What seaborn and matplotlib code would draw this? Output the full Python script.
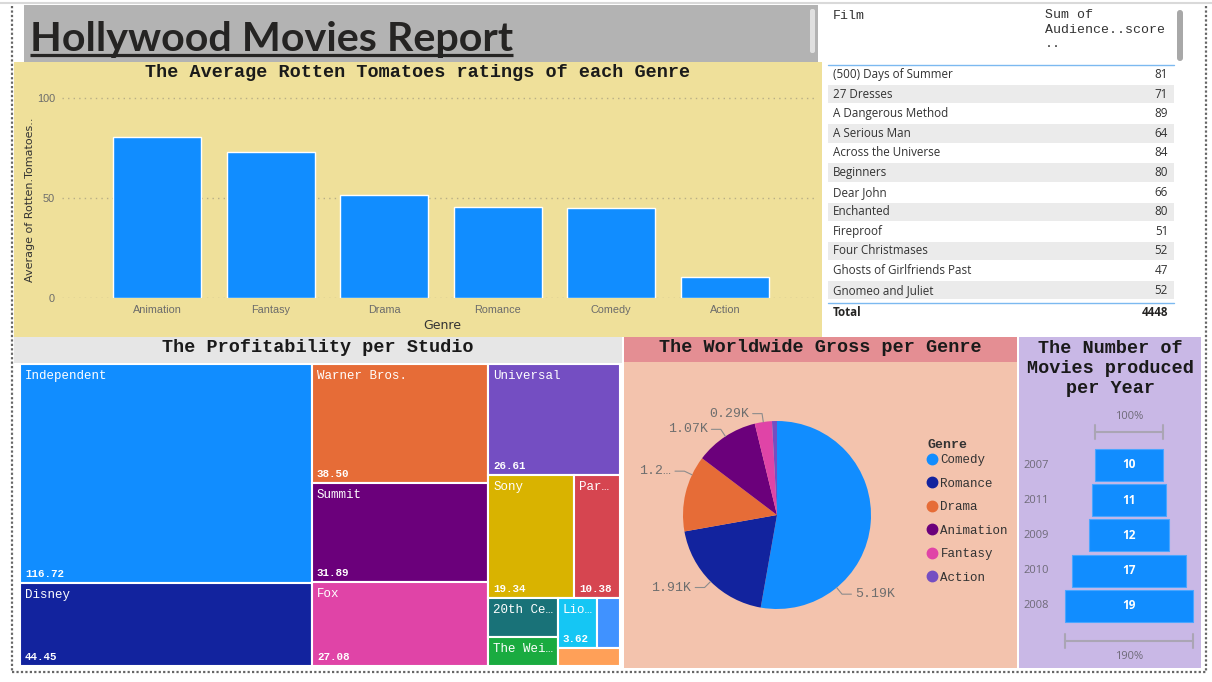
import numpy as np
import matplotlib.pyplot as plt
from matplotlib.patches import Rectangle, FancyBboxPatch
from matplotlib.lines import Line2D
import seaborn as sns

# ---------------- data ----------------
genres = ['Animation', 'Fantasy', 'Drama', 'Romance', 'Comedy', 'Action']
rt_avg = [80.3, 72.9, 51.6, 45.6, 45.1, 10.7]

films = ['(500) Days of Summer', '27 Dresses', 'A Dangerous Method', 'A Serious Man',
         'Across the Universe', 'Beginners', 'Dear John', 'Enchanted', 'Fireproof',
         'Four Christmases', 'Ghosts of Girlfriends Past', 'Gnomeo and Juliet']
aud_scores = [81, 71, 89, 64, 84, 80, 66, 80, 51, 52, 47, 52]
aud_total = 4448

studios = ['Independent', 'Disney', 'Warner Bros.', 'Summit', 'Fox', 'Universal', 'Sony',
           'Paramount', '20th Century Fox', 'The Weinstein Company', 'Lionsgate', 'CBS', 'New Line']
profit = [116.72, 44.45, 38.50, 31.89, 27.08, 26.61, 19.34, 10.38, 4.90, 3.66, 3.62, 2.10, 2.00]

pie_genres = ['Comedy', 'Romance', 'Drama', 'Animation', 'Fantasy', 'Action']
gross = [5190, 1910, 1290, 1070, 290, 84]

years = ['2007', '2011', '2009', '2010', '2008']
n_movies = [10, 11, 12, 17, 19]

# power bi default palette
PBI = ['#118DFF', '#12239E', '#E66C37', '#6B007B', '#E044A7', '#744EC2', '#D9B300',
       '#D64550', '#197278', '#1AAB40', '#15C6F4', '#4092FF', '#FFA058']

sns.set_style('white')
plt.rcParams['font.family'] = ['DejaVu Sans']
MONO = ['Liberation Mono', 'DejaVu Sans Mono']
SANS = ['Open Sans', 'DejaVu Sans']

W, H = 1212, 682
fig = plt.figure(figsize=(W / 100, H / 100), dpi=100)
fig.patch.set_facecolor('white')

canvas = fig.add_axes([0, 0, 1, 1])
canvas.set_xlim(0, W)
canvas.set_ylim(H, 0)
canvas.axis('off')


def box(x0, y0, x1, y1, color):
    canvas.add_patch(Rectangle((x0, y0), x1 - x0, y1 - y0, facecolor=color, edgecolor='none'))


def px_axes(x0, y0, x1, y1):
    a = fig.add_axes([x0 / W, 1 - y1 / H, (x1 - x0) / W, (y1 - y0) / H])
    a.patch.set_alpha(0)
    return a


# ---------------- backgrounds ----------------
box(24, 5, 818, 62, '#b3b3b3')
canvas.add_patch(FancyBboxPatch((810, 9), 5, 44, boxstyle='round,pad=0,rounding_size=2',
                                facecolor='#e0e0e0', edgecolor='none'))
box(14, 62, 822, 337, '#efe09a')
box(14, 337, 622, 363, '#e6e6e6')
box(624, 337, 1017, 668, '#f3c3ad')
box(624, 337, 1017, 362, '#e48e93')
box(1019, 337, 1201, 668, '#c9b8e6')

# title with underline, sized to span the same width as the report title
title = canvas.text(30, 51, 'Hollywood Movies Report', fontsize=32, fontweight='bold',
                    family=['Lato', 'DejaVu Sans'], color='#252423', va='baseline')
fig.canvas.draw()
bb = title.get_window_extent(fig.canvas.get_renderer())
title.set_fontsize(32 * 484 / bb.width)
fig.canvas.draw()
bb = title.get_window_extent(fig.canvas.get_renderer())
canvas.plot([bb.x0, bb.x1], [54.5, 54.5], color='#252423', lw=2.3, solid_capstyle='butt')

hdr = dict(family=MONO, fontweight='bold', fontsize=13.3, color='#1a1a1a', ha='center', va='center')
canvas.text(418, 72.5, 'The Average Rotten Tomatoes ratings of each Genre', **hdr)
canvas.text(318, 348, 'The Profitability per Studio', **hdr)
canvas.text(820, 348, 'The Worldwide Gross per Genre', **hdr)
canvas.text(1110, 368.5, 'The Number of\nMovies produced\nper Year', linespacing=1.2, **hdr)

# ---------------- bar chart ----------------
axb = px_axes(62, 90, 818, 298)
sns.barplot(x=genres, y=rt_avg, color='#118DFF', saturation=1, width=0.775, ax=axb)
axb.set_xlim(-0.836, 5.82)
axb.set_ylim(0, 103.8)
axb.set_yticks([0, 50, 100])
axb.grid(axis='y', linestyle=(0, (1, 3)), color='#b8ae86', lw=1)
axb.set_axisbelow(True)
sns.despine(ax=axb, left=True, bottom=True)
axb.tick_params(length=0, labelsize=7.8, labelcolor='#6b6b6b', pad=5)
for t in axb.get_xticklabels() + axb.get_yticklabels():
    t.set_family(['Liberation Sans', 'DejaVu Sans'])
axb.set_ylabel('Average of Rotten.Tomatoes..', fontsize=8, color='#333333')
axb.yaxis.set_label_coords(-0.036, 0.47)
axb.set_xlabel('Genre', fontsize=9, color='#333333')
axb.xaxis.set_label_coords(0.503, -0.1)

# ---------------- table ----------------
canvas.text(833, 10, 'Film', family=MONO, fontsize=9.5, color='#333333', va='top')
canvas.text(1045, 9, 'Sum of\nAudience..score\n..', family=MONO, fontsize=9.5,
            color='#333333', va='top', linespacing=1.3)
canvas.plot([828, 1174], [64.5, 64.5], color='#7cb9f0', lw=1)
row_h = 19.6
for i, (f, s) in enumerate(zip(films, aud_scores)):
    yc = 74.5 + row_h * i
    if i % 2 == 1:
        box(828, yc - row_h / 2 + 0.6, 1174, yc + row_h / 2 - 0.6, '#ebebeb')
    canvas.text(833, yc, f, family=SANS, fontsize=8.4, color='#333333', va='center')
    canvas.text(1168, yc, str(s), family=SANS, fontsize=8.4, color='#333333', va='center', ha='right')
canvas.plot([828, 1174], [303, 303], color='#7cb9f0', lw=1)
canvas.text(833, 313, 'Total', family=SANS, fontsize=8.4, fontweight='bold', color='#252423', va='center')
canvas.text(1168, 313, str(aud_total), family=SANS, fontsize=8.4, fontweight='bold',
            color='#252423', va='center', ha='right')
canvas.add_patch(FancyBboxPatch((1177, 10), 6, 51, boxstyle='round,pad=0,rounding_size=3',
                                facecolor='#a8a8a8', edgecolor='none'))


# ---------------- treemap (squarified, golden ratio like d3) ----------------
def squarify(values, x0, y0, x1, y1, ratio=(1 + 5 ** 0.5) / 2):
    rects = []
    i0, n, value = 0, len(values), float(sum(values))
    while i0 < n:
        dx, dy = x1 - x0, y1 - y0
        i1 = i0
        s = values[i1]
        i1 += 1
        vmin = vmax = s
        alpha = max(dy / dx, dx / dy) / (value * ratio)
        beta = s * s * alpha
        best = max(vmax / beta, beta / vmin)
        while i1 < n:
            v = values[i1]
            s2 = s + v
            mn, mx = min(vmin, v), max(vmax, v)
            beta = s2 * s2 * alpha
            r = max(mx / beta, beta / mn)
            if r > best:
                break
            s, vmin, vmax, best = s2, mn, mx, r
            i1 += 1
        row = values[i0:i1]
        if dx < dy:
            h = dy * s / value
            xx = x0
            for v in row:
                w = dx * v / s
                rects.append((xx, y0, w, h))
                xx += w
            y0 += h
        else:
            w = dx * s / value
            yy = y0
            for v in row:
                hh = dy * v / s
                rects.append((x0, yy, w, hh))
                yy += hh
            x0 += w
        value -= s
        i0 = i1
    return rects


TW, TH = 600, 302
axt = px_axes(20, 364, 20 + TW, 364 + TH)
axt.set_xlim(0, TW)
axt.set_ylim(TH, 0)
axt.axis('off')
char_w = 7.4
for (x, y, w, h), name, val, col in zip(squarify(profit, 0, 0, TW, TH), studios, profit, PBI):
    axt.add_patch(Rectangle((x, y), w, h, facecolor=col, edgecolor='white', lw=1.5))
    if h < 25:
        continue
    nchar = int((w - 10) / char_w + 0.05)
    if nchar < 3:
        continue
    label = name if len(name) <= nchar else name[:nchar - 1] + '…'
    axt.text(x + 5, y + 6, label, family=MONO, fontsize=9, color='white', va='top', ha='left')
    if h > 44:
        axt.text(x + 5, y + h - 4, f'{val:.2f}', family=MONO, fontsize=7.8, fontweight='bold',
                 color='white', va='bottom', ha='left')

# ---------------- pie ----------------
PCX, PCY, PR = 777, 515, 94
axp = px_axes(PCX - PR, PCY - PR, PCX + PR, PCY + PR)
axp.pie(gross, colors=PBI[:6], startangle=90, counterclock=False, radius=1,
        wedgeprops=dict(edgecolor='none'))
axp.set_xlim(-1, 1)
axp.set_ylim(-1, 1)
label_frac = [0.74, 0.5, 0.75, 0.5, 0.5]
total = sum(gross)
start = 0
for i, v in enumerate(gross):
    span = 360 * v / total
    if i < len(label_frac):
        th = np.radians(start + label_frac[i] * span)
        sx, cy = np.sin(th), np.cos(th)
        side = 1 if sx > 0 else -1
        p1 = (sx * 1.0, cy * 1.0)
        p2 = (sx * 1.09, cy * 1.09)
        p3 = (p2[0] + side * 0.1, p2[1])
        axp.plot([p1[0], p2[0], p3[0]], [p1[1], p2[1], p3[1]], color='#8c8c8c', lw=0.8, clip_on=False)
        txt = f'{v / 1000:.2f}K'
        tx = p3[0] + side * 0.04
        if side < 0:
            right_px = PCX + tx * PR
            avail = int((right_px - 632) / 8)
            if avail < len(txt):
                txt = txt[:avail - 1] + '…'
        axp.text(tx, p3[1], txt, family=MONO, fontsize=9.5, color='#6e6e6e',
                 ha='left' if side > 0 else 'right', va='center', clip_on=False)
    start += span

handles = [Line2D([], [], marker='o', ls='', markersize=7.5, color=c) for c in PBI[:6]]
fig.legend(handles, pie_genres, title='Genre', loc='upper left', bbox_to_anchor=(921 / W, 1 - 433 / H),
           frameon=False, handlelength=0.8, handletextpad=0.25, labelspacing=0.92, borderpad=0,
           alignment='left', prop={'family': MONO, 'size': 9},
           title_fontproperties={'family': MONO, 'size': 9.5, 'weight': 'bold'})
leg = fig.legends[0]
for t in leg.get_texts():
    t.set_color('#333333')
leg.get_title().set_color('#333333')
leg._legend_box.sep = 2

# ---------------- funnel ----------------
FCX, FU = 1129, 6.74
axf = px_axes(FCX - 70, 400, FCX + 70, 668)
axf.set_xlim(-70 / FU, 70 / FU)
ypos = np.arange(len(years))
axf.set_ylim((668 - 465) / 35.2, (400 - 465) / 35.2)
axf.axis('off')
vals = np.array(n_movies)
axf.barh(ypos, vals, left=-vals / 2, height=0.91, color='#118DFF', edgecolor='#4aa6ff', lw=0.8)
for i, (yr, v) in enumerate(zip(years, n_movies)):
    axf.text(0, i, str(v), ha='center', va='center', color='white', fontsize=8.5,
             fontweight='bold', family=SANS)
    axf.text(-15.7, i, yr, ha='left', va='center', color='#6e6a78', fontsize=8, family=SANS, clip_on=False)
br_col = '#aaa5b4'
for yb, v, ty in [(-0.94, n_movies[0], -1.39), (len(years), n_movies[-1], len(years) + 0.45)]:
    axf.plot([-v / 2, v / 2], [yb, yb], color=br_col, lw=1.5)
    for xe in (-v / 2, v / 2):
        axf.plot([xe, xe], [yb - 0.2, yb + 0.2], color=br_col, lw=1.5)
    axf.text(0, ty, f'{v / n_movies[0] * 100:.0f}%', ha='center', va='center', color='#6e6a78',
             fontsize=8, family=SANS)

# ---------------- dotted border ----------------
dot = dict(color='#666666', lw=1.6, linestyle=(0, (1, 1)))
canvas.plot([12, 12], [6, 672], **dot)
canvas.plot([1206, 1206], [6, 672], **dot)
canvas.plot([12, 1206], [672, 672], **dot)
canvas.plot([0, W], [2.5, 2.5], color='#d9d9d9', lw=1.5)

fig.savefig('out.png', dpi=100, facecolor='white')
